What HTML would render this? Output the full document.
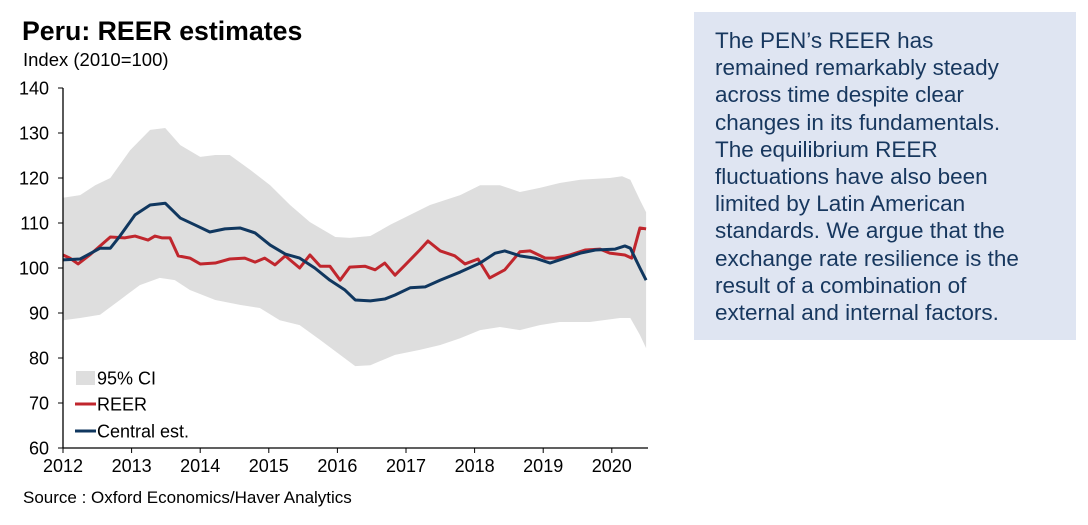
<!DOCTYPE html>
<html><head><meta charset="utf-8"><style>
body{margin:0;width:1088px;height:525px;background:#fff;font-family:"Liberation Sans",Arial,sans-serif;overflow:hidden;position:relative}
#title{position:absolute;left:22px;top:16px;font-size:26.7px;font-weight:bold;color:#000}
#sub{position:absolute;left:23px;top:49px;font-size:18.5px;color:#000}
#src{position:absolute;left:23px;top:488px;font-size:17px;color:#000}
#box{position:absolute;left:694px;top:12px;width:382px;height:328px;background:#dfe5f2;box-sizing:border-box;padding:15px 0 0 21px;font-size:22.5px;line-height:27.2px;color:#17375e;white-space:nowrap}
svg{position:absolute;left:0;top:0}
</style></head><body>
<div id="title">Peru: REER estimates</div>
<div id="sub">Index (2010=100)</div>
<div id="src">Source : Oxford Economics/Haver Analytics</div>
<div id="box">The PEN’s REER has<br>remained remarkably steady<br>across time despite clear<br>changes in its fundamentals.<br>The equilibrium REER<br>fluctuations have also been<br>limited by Latin American<br>standards. We argue that the<br>exchange rate resilience is the<br>result of a combination of<br>external and internal factors.</div>
<svg id="chart" width="1088" height="525"></svg>
<script>
const yTicks=[60,70,80,90,100,110,120,130,140];
const xTicks=[2012,2013,2014,2015,2016,2017,2018,2019,2020];
const centralYears=[0,.25,.54,.69,.83,1.05,1.27,1.49,1.71,1.92,2.14,2.36,2.58,2.80,3.02,3.24,3.45,3.67,3.89,4.11,4.26,4.48,4.69,4.84,5.06,5.28,5.50,5.79,6.08,6.30,6.44,6.66,6.88,7.10,7.32,7.54,7.76,8.05,8.19,8.27,8.41,8.50];
const centralVals=[101.8,102.0,104.4,104.4,107.1,111.8,114.0,114.4,111.1,109.6,108.0,108.7,108.9,107.8,105.1,103.1,102.2,100.0,97.3,95.1,92.9,92.7,93.1,94.0,95.6,95.8,97.3,99.1,101.1,103.3,103.8,102.7,102.2,101.1,102.2,103.3,104.0,104.2,104.9,104.4,100.0,97.3];
const reerYears=[0,.10,.22,.39,.54,.69,.90,1.05,1.24,1.34,1.44,1.56,1.68,1.85,2.00,2.22,2.43,2.65,2.80,2.94,3.09,3.24,3.45,3.60,3.75,3.89,4.04,4.18,4.40,4.55,4.69,4.84,4.99,5.20,5.32,5.50,5.71,5.86,6.05,6.22,6.44,6.66,6.81,7.03,7.17,7.39,7.61,7.83,7.97,8.19,8.29,8.41,8.50];
const reerVals=[102.9,102.2,100.9,102.9,104.9,106.9,106.7,107.1,106.2,107.1,106.7,106.7,102.7,102.2,100.9,101.1,102.0,102.2,101.3,102.2,100.7,102.7,100.0,102.9,100.4,100.4,97.3,100.2,100.4,99.6,101.1,98.4,100.7,104.0,106.0,103.8,102.7,100.9,102.0,97.8,99.6,103.6,103.8,102.2,102.2,102.9,104.0,104.2,103.3,102.9,102.2,108.9,108.7];
const upperYears=[0,.25,.47,.69,.98,1.27,1.49,1.71,2.00,2.22,2.43,2.73,3.02,3.31,3.60,3.97,4.18,4.48,4.77,5.06,5.35,5.79,6.08,6.37,6.66,6.95,7.24,7.54,7.97,8.15,8.27,8.41,8.50];
const upperVals=[115.6,116.2,118.4,120.0,126.2,130.7,131.1,127.3,124.7,125.1,125.1,121.8,118.4,114.0,110.2,106.9,106.7,107.1,109.6,111.8,114.0,116.2,118.4,118.4,116.9,117.8,118.9,119.6,120.0,120.4,119.6,115.1,112.4];
const lowerYears=[0,.25,.54,.83,1.12,1.41,1.63,1.85,2.22,2.58,2.87,3.16,3.45,3.75,4.04,4.26,4.48,4.84,5.20,5.50,5.79,6.08,6.37,6.66,6.95,7.24,7.68,8.12,8.27,8.41,8.50];
const lowerVals=[88.4,88.9,89.6,92.9,96.2,97.8,97.3,95.1,92.9,91.8,91.1,88.4,87.3,84.0,80.7,78.2,78.4,80.7,81.8,82.9,84.4,86.2,86.9,86.2,87.3,88.0,88.0,88.9,88.9,85.1,82.2];
const svg=document.getElementById('chart');const NS='http://www.w3.org/2000/svg';
const X0=63,PXY=68.6,Y0=448,PXV=4.5;
const xs=t=>X0+t*PXY, ys=v=>Y0-(v-60)*PXV;
function mk(tag,attrs){const e=document.createElementNS(NS,tag);for(const k in attrs)e.setAttribute(k,attrs[k]);svg.appendChild(e);return e;}
let d='M'+upperYears.map((t,i)=>xs(t)+','+ys(upperVals[i])).join('L');
for(let i=lowerYears.length-1;i>=0;i--)d+='L'+xs(lowerYears[i])+','+ys(lowerVals[i]);
const band=mk('path',{d:d+'Z',fill:'#dedede'});


function line(yrs,vals,col,name){const p=mk('polyline',{points:yrs.map((t,i)=>xs(t)+','+ys(vals[i])).join(' '),fill:'none',stroke:col,'stroke-width':3,'stroke-linejoin':'round'});

}
line(reerYears,reerVals,'#c0262d','reer-line');
line(centralYears,centralVals,'#10375f','central-estimate-line');
const ya=mk('line',{x1:X0,y1:ys(140),x2:X0,y2:Y0,stroke:'#000','stroke-width':1.3});


const xa=mk('line',{x1:X0,y1:Y0,x2:648,y2:Y0,stroke:'#000','stroke-width':1.3});


yTicks.forEach(v=>{mk('line',{x1:X0-5,y1:ys(v),x2:X0,y2:ys(v),stroke:'#000'});
const t=mk('text',{x:49,y:ys(v)+6.5,'text-anchor':'end','font-size':18,fill:'#000'});t.textContent=v;

});
xTicks.forEach(y=>{const x=xs(y-2012);mk('line',{x1:x,y1:Y0,x2:x,y2:Y0+5,stroke:'#000'});
const t=mk('text',{x:x,y:Y0+24,'text-anchor':'middle','font-size':18,fill:'#000'});t.textContent=y;

});
const lg=[['95% CI',378],['REER',404],['Central est.',431]];
const r=mk('rect',{x:76,y:371,width:19,height:14,fill:'#dedede'});


mk('line',{x1:75,y1:404,x2:96,y2:404,stroke:'#c0262d','stroke-width':3});
mk('line',{x1:75,y1:431,x2:96,y2:431,stroke:'#10375f','stroke-width':3});
lg.forEach(([s,y])=>{const t=mk('text',{x:97,y:y+6.5,'font-size':18,fill:'#000'});t.textContent=s;

});
</script>
</body></html>
